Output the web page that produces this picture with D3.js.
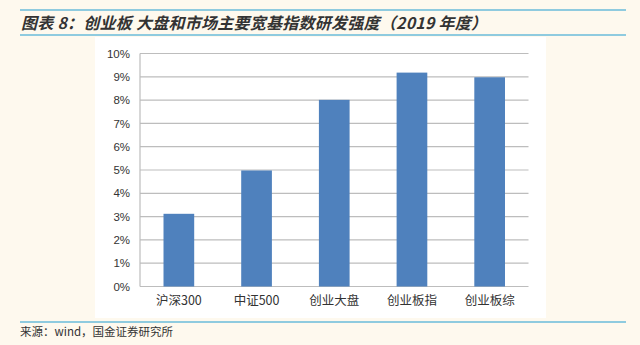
<!DOCTYPE html>
<html><head><meta charset="utf-8">
<script src="https://cdn.jsdelivr.net/npm/d3@7"></script>
<style>body{margin:0;background:#FEF9EE;}svg{display:block;}</style>
</head><body>
<svg id="c" width="640" height="345"></svg>
<script>
const categories = ["沪深300", "中证500", "创业大盘", "创业板指", "创业板综"];
const values = [3.12, 4.98, 8.01, 9.18, 8.98];
const tickValues = [0,1,2,3,4,5,6,7,8,9,10];
const title = "图表 8：创业板 大盘和市场主要宽基指数研发强度（2019 年度）";
const source = "来源：wind，国金证券研究所";

const svg = d3.select("#c");
const font = "'Noto Sans CJK SC', 'Liberation Sans', sans-serif";
svg.append("rect").attr("width",640).attr("height",345).attr("fill","#FEF9EE");
svg.append("rect").attr("x",95).attr("y",37).attr("width",451).attr("height",281).attr("fill","#FFFFFF");

// title lines
[10,35,322].forEach(y=>svg.append("line").attr("x1",20).attr("x2",626).attr("y1",y).attr("y2",y)
  .attr("stroke","#8FCBDF").attr("stroke-width",2));
svg.append("text").attr("x",21).attr("y",28.5).text(title)
  .attr("font-family",font).attr("font-size",16).attr("letter-spacing",0.25).attr("font-weight","bold").attr("font-style","italic")
  .attr("fill","#333");
svg.append("text").attr("x",20).attr("y",336).text(source)
  .attr("font-family",font).attr("font-size",11.5).attr("fill","#333");

const x = d3.scaleBand().domain(categories).range([140,528.5]).paddingInner(0.605).paddingOuter(0.3025);
const y = d3.scaleLinear().domain([0,10]).range([286.5,53.5]);

// gridlines
svg.append("g").selectAll("line").data(tickValues).join("line")
  .attr("x1",140).attr("x2",528.5).attr("y1",d=>y(d)).attr("y2",d=>y(d))
  .attr("stroke","#BDBDBD").attr("stroke-width",1.2);
svg.append("line").attr("x1",140).attr("x2",140).attr("y1",y(10)).attr("y2",y(0))
  .attr("stroke","#BDBDBD").attr("stroke-width",1.2);

// bars
svg.append("g").selectAll("rect").data(values).join("rect")
  .attr("x",(d,i)=>x(categories[i])).attr("width",x.bandwidth())
  .attr("y",d=>y(d)).attr("height",d=>y(0)-y(d)).attr("fill","#4F81BD");

// y axis labels
const ya = d3.axisLeft(y).tickValues(tickValues).tickFormat(d=>d+"%").tickSize(0).tickPadding(10);
const gy = svg.append("g").attr("transform","translate(140,0)").call(ya);
gy.select(".domain").remove();
gy.selectAll("text").attr("font-family","'Liberation Sans', Arial, sans-serif").attr("font-size",11.5).attr("fill","#333");

const xa = d3.axisBottom(x).tickSize(0).tickPadding(10);
const gx = svg.append("g").attr("transform",`translate(0,${y(0)})`).call(xa);
gx.select(".domain").remove();
gx.selectAll("text").attr("font-family",font).attr("font-size",12.5).attr("fill","#333");
</script>
</body></html>
